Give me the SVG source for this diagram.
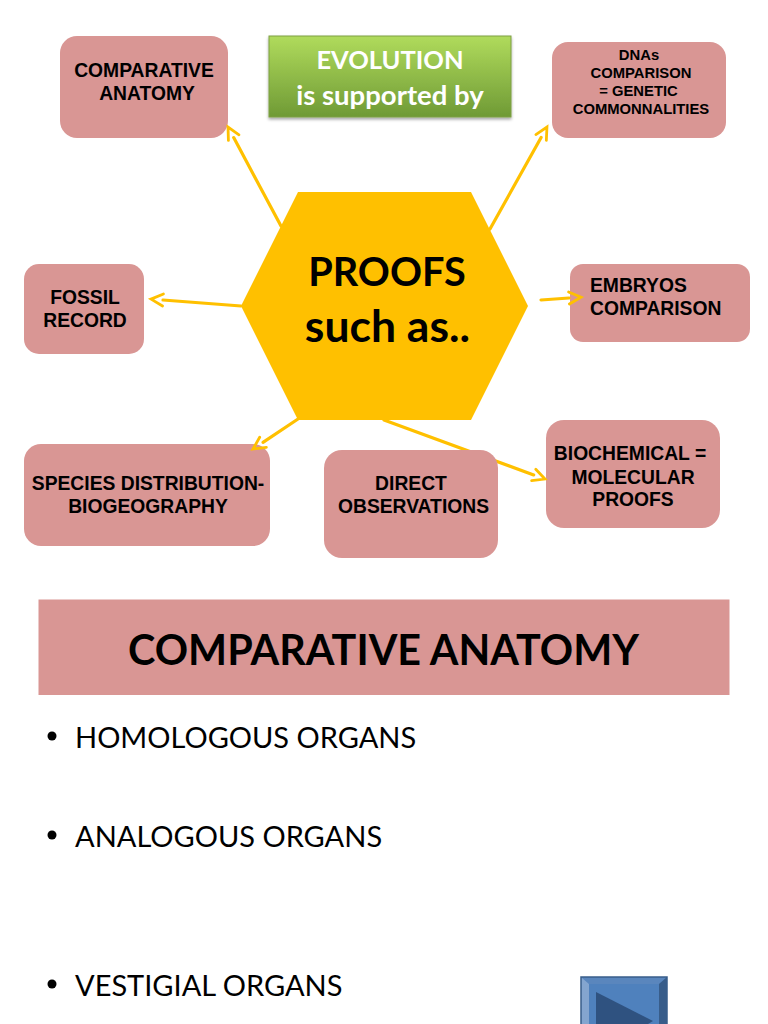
<svg xmlns="http://www.w3.org/2000/svg" width="768" height="1024" viewBox="0 0 768 1024">
<style>
.box{fill:#d99694}
.lb{font-family:"Liberation Sans",Arial,sans-serif;font-weight:700;font-size:19.300px;fill:#000;text-anchor:middle}
.sm{font-size:14.800px}
.la{font-family:Lato,"Open Sans",sans-serif;text-anchor:middle}
.bul{font-family:Lato,"Open Sans",sans-serif;font-size:29px;fill:#000}
.con{stroke:#ffc000;stroke-width:3.200;fill:none;stroke-linecap:round;marker-end:url(#a)}
</style>
<defs>
<marker id="a" markerUnits="userSpaceOnUse" markerWidth="20" markerHeight="20" refX="4" refY="10" orient="auto"><path d="M4 4L16 10L4 16" fill="none" stroke="#ffc000" stroke-width="2.800" stroke-linecap="round"/></marker>
<linearGradient id="g" x1="0" y1="0" x2="0" y2="1"><stop offset="0" stop-color="#b0db5c"/><stop offset="1" stop-color="#6f9a35"/></linearGradient>
<filter id="s" x="-5%" y="-10%" width="110%" height="125%"><feDropShadow dx="0" dy="2" stdDeviation="1.500" flood-color="#000" flood-opacity=".35"/></filter>
</defs>
<rect width="768" height="1024" fill="#fff"/>
<g id="n-evolution"><rect x="269" y="36" width="242" height="81" fill="url(#g)" stroke="#7f9f45" filter="url(#s)"/>
<text class="la" x="390" y="69" font-size="25.500" font-weight="700" fill="#fff">EVOLUTION</text>
<text class="la" x="390" y="105" font-size="27.500" font-weight="700" fill="#fff">is supported by</text></g>
<g id="n-proofs"><polygon points="298,192 471,192 528,306 471,420 298,420 241,306" fill="#ffc000"/>
<text class="la" x="387" y="286" font-size="39.700" font-weight="700" fill="#000">PROOFS</text>
<text class="la" x="387.500" y="342" font-size="44.500" font-weight="700" fill="#000">such as..</text></g>
<g id="n-anatomy"><rect class="box" x="60" y="36" width="168" height="102" rx="17"/><text class="lb" x="144" y="77">COMPARATIVE</text><text class="lb" x="147" y="100">ANATOMY</text></g>
<g id="n-dna"><rect class="box" x="552" y="42" width="174" height="96" rx="16"/><text class="lb sm" x="639" y="60">DNAs</text><text class="lb sm" x="641" y="78">COMPARISON</text><text class="lb sm" x="638.500" y="96">= GENETIC</text><text class="lb sm" x="641" y="114">COMMONNALITIES</text></g>
<g id="n-fossil"><rect class="box" x="24" y="264" width="120" height="90" rx="15"/><text class="lb" x="85" y="304">FOSSIL</text><text class="lb" x="85" y="327">RECORD</text></g>
<g id="n-embryos"><rect class="box" x="570" y="264" width="180" height="78" rx="13"/><text class="lb" x="590" y="292" style="text-anchor:start">EMBRYOS</text><text class="lb" x="590" y="315" style="text-anchor:start">COMPARISON</text></g>
<g id="n-species"><rect class="box" x="24" y="444" width="246" height="102" rx="17"/><text class="lb" x="148" y="490">SPECIES DISTRIBUTION-</text><text class="lb" x="148" y="513">BIOGEOGRAPHY</text></g>
<g id="n-biochem"><rect class="box" x="546" y="420" width="174" height="108" rx="18"/><text class="lb" x="630" y="460">BIOCHEMICAL =</text><text class="lb" x="633" y="484">MOLECULAR</text><text class="lb" x="633" y="506">PROOFS</text></g>
<g id="connectors">
<path class="con" d="M281 226L233.700 137.600"/>
<path class="con" d="M490 229L541.100 137.500"/>
<path class="con" d="M241 306L163 300"/>
<path class="con" d="M541 300L569 298"/>
<path class="con" d="M298 419L263 442.300"/>
<path class="con" d="M384 420L533.700 474.900"/>
</g>
<g id="n-direct"><rect class="box" x="324" y="450" width="174" height="108" rx="18"/><text class="lb" x="411" y="490">DIRECT</text><text class="lb" x="413.500" y="513">OBSERVATIONS</text></g>
<g id="title"><rect class="box" x="38.500" y="599.500" width="691" height="95.500"/><text class="la" x="383.500" y="664.500" font-size="41.300" font-weight="700" fill="#000">COMPARATIVE ANATOMY</text></g>
<g id="bullets">
<circle cx="52" cy="736" r="4.500"/><text class="bul" x="75" y="748">HOMOLOGOUS ORGANS</text>
<circle cx="52" cy="835" r="4.500"/><text class="bul" x="75" y="847">ANALOGOUS ORGANS</text>
<circle cx="52" cy="984" r="4.500"/><text class="bul" x="75" y="996">VESTIGIAL ORGANS</text>
</g>
<g id="play">
<rect x="581" y="977" width="86" height="47" fill="#4f81bd"/>
<polygon points="581,977 667,977 659,984 589,984" fill="#5a86bd"/>
<polygon points="581,977 589,984 589,1024 581,1024" fill="#84a5cf"/>
<polygon points="667,977 659,984 659,1024 667,1024" fill="#385d8a"/>
<path d="M581 1024V977H667V1024" fill="none" stroke="#385d8a" stroke-width="1.500"/>
<polygon points="596,992 653,1021 648,1024 596,1024" fill="#2f5280"/>
</g>
</svg>
